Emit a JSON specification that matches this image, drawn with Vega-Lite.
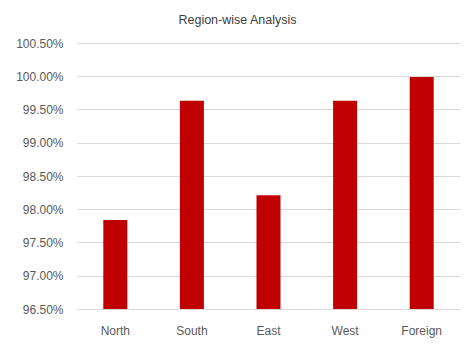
{
  "$schema": "https://vega.github.io/schema/vega-lite/v6.json",
  "width": 383,
  "height": 266,
  "autosize": {"type": "none"},
  "padding": {"left": 77, "top": 43, "right": 14, "bottom": 47},
  "background": "white",
  "config": {
    "view": {"stroke": null},
    "font": "Liberation Sans"
  },
  "title": {
    "text": "Region-wise Analysis",
    "fontSize": 12.5,
    "fontWeight": "normal",
    "color": "#404040",
    "anchor": "middle",
    "dx": -31,
    "offset": 11
  },
  "data": {
    "values": [
      {"Region": "North", "Value": 0.9784},
      {"Region": "South", "Value": 0.9963},
      {"Region": "East", "Value": 0.9821},
      {"Region": "West", "Value": 0.9963},
      {"Region": "Foreign", "Value": 0.9999}
    ]
  },
  "mark": {"type": "bar", "size": 24, "color": "#c00000", "clip": true},
  "encoding": {
    "x": {
      "field": "Region",
      "type": "nominal",
      "sort": null,
      "scale": {"paddingInner": 0, "paddingOuter": 0},
      "axis": {
        "title": null,
        "labelAngle": 0,
        "domain": false,
        "ticks": false,
        "labelPadding": 16,
        "labelFontSize": 12,
        "labelColor": "#595959"
      }
    },
    "y": {
      "field": "Value",
      "type": "quantitative",
      "scale": {"domain": [0.965, 1.005], "nice": false, "zero": false},
      "axis": {
        "title": null,
        "format": ".2%",
        "values": [0.965, 0.97, 0.975, 0.98, 0.985, 0.99, 0.995, 1.0, 1.005],
        "domain": false,
        "ticks": false,
        "labelPadding": 14,
        "labelFontSize": 12,
        "labelColor": "#595959",
        "gridColor": "#d9d9d9",
        "gridWidth": 1
      }
    }
  }
}
